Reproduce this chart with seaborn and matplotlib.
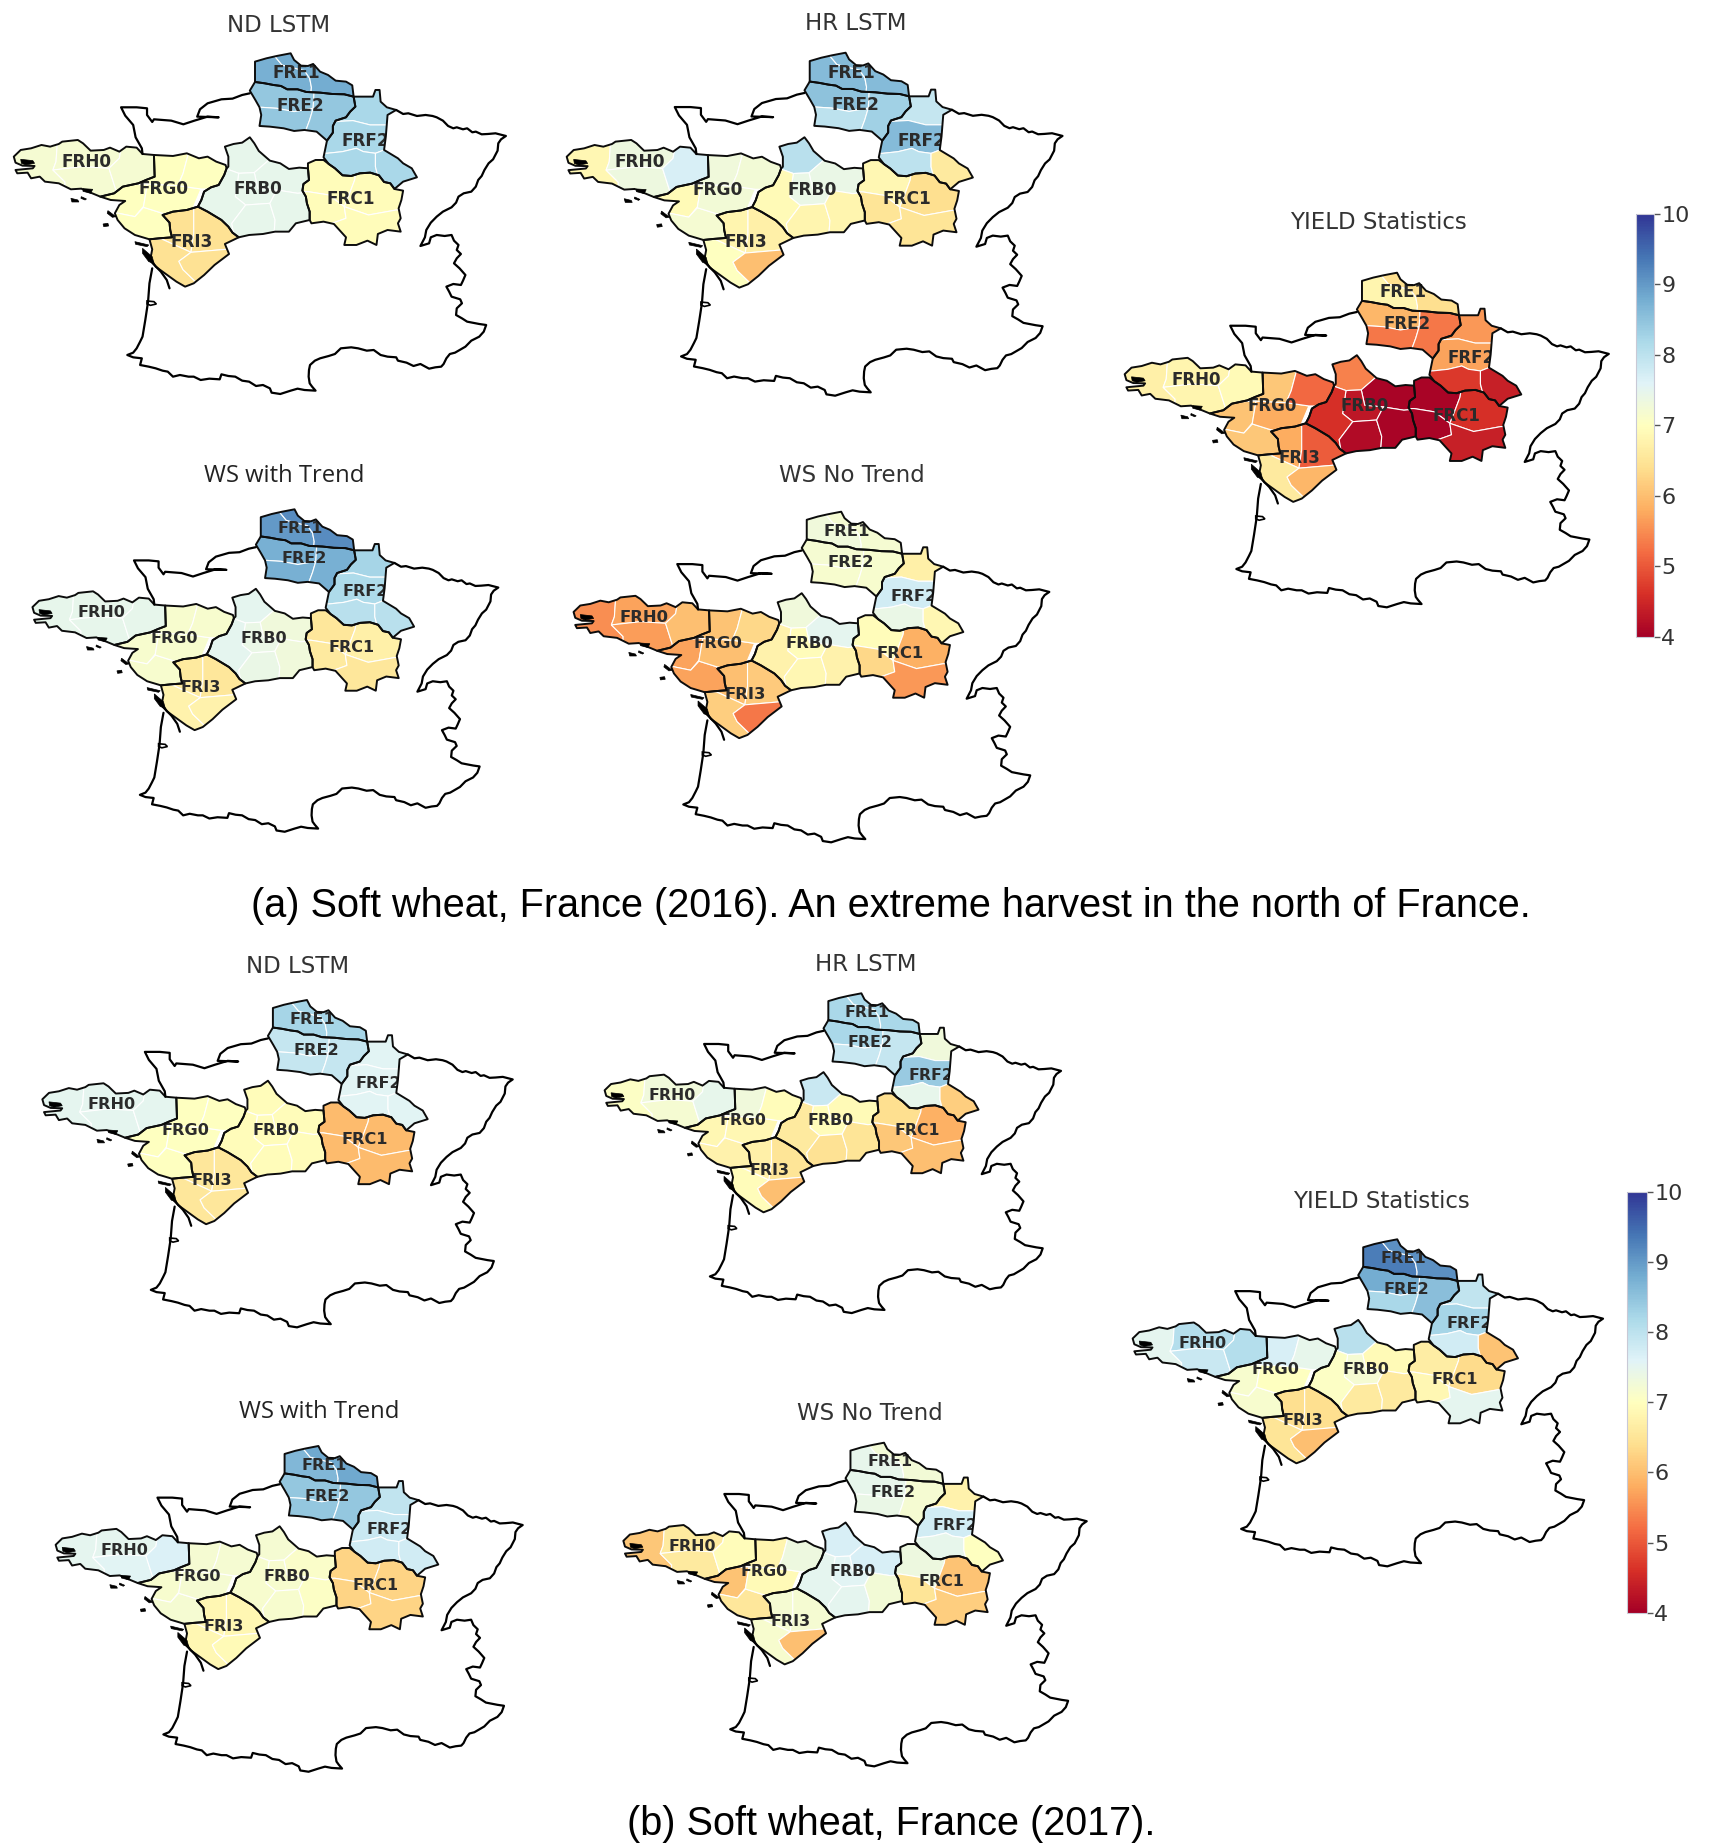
import matplotlib
matplotlib.use("Agg")
import matplotlib.pyplot as plt
from matplotlib.patches import Polygon
from matplotlib.cm import ScalarMappable
from matplotlib.colors import Normalize
import seaborn as sns

# ---------- yields per department (t/ha) ----------
departments = ["Pas-de-Calais", "Nord", "Somme", "Oise", "Aisne", "Ardennes", "Marne", "Aube", "Haute-Marne",
               "Finistere", "Cotes-d'Armor", "Morbihan", "Ille-et-Vilaine",
               "Loire-Atlantique", "Vendee", "Maine-et-Loire", "Mayenne", "Sarthe",
               "Eure-et-Loir", "Loiret", "Loir-et-Cher", "Indre-et-Loire", "Indre", "Cher",
               "Yonne", "Cote-d'Or", "Nievre", "Saone-et-Loire",
               "Deux-Sevres", "Vienne", "Charente-Maritime", "Charente"]

nd_2016 = [8.75, 8.8, 8.45, 8.45, 8.45, 8.2, 8.2, 8.2, 8.2, 7.2, 7.2, 7.2, 7.2, 7.0, 7.0, 7.0, 7.0, 7.0,
           7.45, 7.45, 7.45, 7.45, 7.45, 7.45, 6.95, 6.95, 6.95, 6.95, 6.45, 6.45, 6.45, 6.45]
hr_2016 = [8.6, 8.6, 8.5, 8.0, 8.3, 7.9, 8.6, 8.0, 6.6, 6.85, 7.35, 7.35, 7.7, 6.9, 7.2, 7.25, 7.3, 7.25,
           8.05, 7.4, 7.4, 6.9, 6.8, 6.8, 6.85, 6.4, 6.5, 6.5, 6.8, 6.7, 7.0, 6.0]
wst_2016 = [9.0, 9.15, 8.75, 8.75, 8.75, 8.25, 8.15, 8.05, 8.05, 7.45, 7.45, 7.45, 7.45, 7.15, 7.15, 7.15, 7.15, 7.15,
            7.5, 7.3, 7.4, 7.5, 7.4, 7.3, 6.55, 6.7, 6.6, 6.55, 6.6, 6.55, 6.75, 6.75]
wsn_2016 = [7.3, 7.2, 7.2, 7.15, 7.15, 6.7, 7.75, 7.4, 6.85, 5.5, 5.7, 5.65, 6.0, 5.7, 5.7, 6.0, 6.05, 6.3,
            7.3, 7.5, 6.95, 6.75, 6.85, 6.75, 6.95, 5.85, 6.3, 5.6, 6.0, 6.15, 6.2, 5.3]
stats_2016 = [6.8, 6.4, 5.9, 5.3, 5.3, 5.6, 5.7, 4.7, 4.4, 6.7, 6.8, 6.8, 6.9, 6.05, 6.1, 5.8, 6.1, 5.15,
              5.4, 4.05, 4.3, 4.6, 4.15, 4.05, 4.05, 4.6, 4.05, 4.4, 5.8, 5.05, 6.6, 5.9]
nd_2017 = [8.25, 8.25, 7.9, 7.9, 7.9, 7.55, 7.55, 7.55, 7.55, 7.5, 7.5, 7.5, 7.5, 7.0, 7.0, 7.0, 7.0, 7.0,
           6.95, 6.95, 6.95, 6.95, 6.95, 6.95, 5.95, 5.95, 5.95, 5.95, 6.55, 6.55, 6.55, 6.55]
hr_2017 = [8.2, 8.2, 8.2, 7.85, 7.9, 7.3, 8.4, 7.45, 6.2, 7.05, 7.3, 7.2, 7.45, 6.85, 6.75, 6.85, 7.3, 6.95,
           7.85, 6.9, 6.95, 6.6, 6.45, 6.5, 6.4, 5.85, 6.1, 6.0, 6.7, 6.5, 6.95, 6.0]
wst_2017 = [8.65, 8.85, 8.45, 8.45, 8.45, 7.95, 7.85, 7.75, 7.75, 7.5, 7.5, 7.55, 7.65, 7.15, 7.2, 7.2, 7.2, 7.2,
            7.2, 7.1, 7.15, 7.15, 7.15, 7.05, 6.25, 6.25, 6.25, 6.25, 6.85, 6.85, 6.85, 6.9]
wsn_2017 = [7.45, 7.25, 7.45, 7.4, 7.2, 6.75, 7.75, 7.45, 7.0, 6.1, 6.6, 6.6, 6.95, 6.05, 6.55, 6.9, 6.8, 7.35,
            7.7, 7.7, 7.55, 7.5, 7.5, 7.25, 7.35, 6.05, 6.5, 6.2, 7.2, 7.2, 7.15, 6.0]
stats_2017 = [9.3, 9.1, 8.8, 8.2, 8.55, 7.95, 8.25, 7.75, 6.05, 7.5, 8.1, 7.85, 8.1, 7.15, 7.15, 7.0, 7.7, 7.45,
              8.05, 6.9, 7.2, 7.05, 6.6, 6.6, 6.65, 6.35, 6.85, 7.5, 6.4, 6.4, 6.5, 6.0]

panel_titles = ["ND LSTM", "HR LSTM", "WS with Trend", "WS No Trend", "YIELD Statistics"]
captions = ["(a) Soft wheat, France (2016). An extreme harvest in the north of France.",
            "(b) Soft wheat, France (2017)."]
colorbar_ticks = [4, 5, 6, 7, 8, 9, 10]

# ---------- map geometry (map units, y down) ----------
arc_e1e2 = [(737, 246), (765, 250), (790, 255), (812, 258), (830, 268), (860, 268), (885, 276), (925, 278), (960, 282), (995, 283), (1022, 290)]
arc_e2f2 = [(1022, 290), (1027, 320), (1012, 335), (1000, 352), (970, 362), (962, 378), (962, 398), (945, 422)]
arc_f2c1 = [(950, 492), (968, 505), (990, 526), (1015, 528), (1040, 520), (1070, 518), (1095, 526), (1110, 546), (1128, 550), (1140, 567)]
arc_bc = [(890, 505), (893, 540), (877, 552), (874, 572), (884, 590), (887, 610), (895, 635), (895, 660)]
arc_bg = [(655, 505), (648, 525), (632, 555), (610, 562), (590, 575), (582, 600), (572, 620)]
arc_bi = [(572, 620), (600, 635), (640, 660), (660, 680), (672, 698), (690, 712)]
arc_gi = [(572, 620), (540, 630), (500, 635), (470, 645), (490, 668), (492, 690), (497, 712), (460, 715), (432, 718)]
arc_hg = [(445, 465), (447, 530), (422, 540), (400, 550), (355, 560), (330, 580), (290, 590)]

region_outlines = {
    "FRE1": [(737, 185), (770, 175), (800, 168), (840, 160), (850, 180), (870, 197), (890, 198), (905, 192), (925, 215), (948, 225), (970, 242), (1000, 245), (1018, 256), (1022, 290)] + arc_e1e2[::-1],
    "FRE2": [(722, 272)] + arc_e1e2 + arc_e2f2[1:] + [(915, 395), (880, 390), (850, 393), (820, 385), (780, 380), (750, 378), (755, 345), (750, 322), (738, 300)],
    "FRF2": arc_e2f2 + [(935, 472)] + arc_f2c1 + [(1165, 545), (1205, 532), (1190, 505), (1165, 490), (1150, 475), (1110, 450), (1115, 410), (1120, 345), (1145, 330), (1118, 322), (1100, 305), (1097, 270), (1085, 270), (1078, 290), (1050, 290)],
    "FRH0": [(40, 470), (60, 450), (90, 445), (120, 435), (145, 440), (170, 432), (180, 425), (225, 420), (240, 430), (262, 452), (300, 450), (318, 443), (345, 455), (365, 440), (395, 443), (412, 462)] + arc_hg + [(262, 578), (235, 566), (205, 568), (170, 550), (130, 545), (115, 530), (90, 535), (80, 518), (50, 520), (45, 510), (95, 505), (100, 498), (65, 497), (45, 488)],
    "FRG0": arc_hg[::-1] + [(500, 468), (540, 460), (575, 475), (600, 470), (625, 485), (652, 495)] + arc_bg + arc_gi[1:] + [(390, 705), (360, 685), (340, 660), (332, 640), (345, 615), (362, 603), (320, 600)],
    "FRB0": [(650, 440), (675, 432), (700, 428), (722, 412), (735, 430), (748, 453), (780, 482), (810, 490), (835, 507), (865, 503)] + arc_bc + [(875, 665), (855, 670), (835, 695), (795, 695), (760, 702), (720, 705), (690, 712)] + arc_bi[::-1] + arc_bg[::-1] + [(660, 500), (660, 470)],
    "FRC1": [(890, 490), (912, 480), (935, 480)] + arc_f2c1 + [(1165, 572), (1160, 600), (1152, 625), (1158, 655), (1150, 670), (1158, 695), (1120, 690), (1092, 702), (1088, 735), (1062, 722), (1030, 735), (995, 735), (1000, 712), (965, 672), (935, 665), (900, 670), (895, 660), (895, 635), (887, 610), (884, 590), (874, 572), (877, 552), (893, 540), (890, 505)],
    "FRI3": arc_gi + [(440, 748), (435, 775), (450, 800), (490, 830), (510, 845), (535, 860), (560, 850), (590, 825), (620, 795), (662, 762), (650, 732)] + arc_bi[::-1],
}

region_departments = {
    "FRE1": [[(700, 120), (795, 120), (795, 170), (815, 195), (880, 212), (895, 235), (900, 262), (897, 300), (700, 300)],
             [(795, 120), (1060, 120), (1060, 300), (897, 300), (900, 262), (895, 235), (880, 212), (815, 195), (795, 170)]],
    "FRE2": [[(700, 230), (910, 230), (905, 325), (850, 335), (800, 325), (755, 322), (700, 322)],
             [(700, 322), (755, 322), (800, 325), (850, 335), (905, 325), (895, 360), (885, 388), (885, 440), (700, 440)],
             [(910, 230), (1060, 230), (1060, 440), (885, 440), (885, 388), (895, 360), (905, 325)]],
    "FRF2": [[(920, 260), (1160, 260), (1160, 375), (1070, 375), (1020, 362), (965, 365), (920, 365)],
             [(920, 365), (965, 365), (1020, 362), (1070, 375), (1160, 375), (1160, 440), (1110, 450), (1085, 460), (1050, 455), (1030, 445), (990, 455), (945, 460), (920, 460)],
             [(920, 460), (945, 460), (990, 455), (1030, 445), (1050, 455), (1085, 460), (1085, 500), (1095, 540), (920, 540)],
             [(1085, 460), (1110, 450), (1160, 440), (1220, 450), (1220, 580), (1095, 580), (1095, 540), (1085, 500)]],
    "FRH0": [[(20, 410), (167, 410), (162, 485), (153, 510), (188, 546), (188, 600), (20, 600)],
             [(167, 410), (355, 410), (350, 445), (345, 475), (315, 505), (240, 500), (153, 510), (162, 485)],
             [(153, 510), (240, 500), (315, 505), (335, 570), (335, 600), (188, 600), (188, 546)],
             [(355, 410), (460, 410), (460, 560), (335, 600), (335, 570), (315, 505), (345, 475), (350, 445)]],
    "FRG0": [[(270, 560), (426, 552), (415, 619), (390, 650), (338, 639), (270, 639)],
             [(270, 639), (338, 639), (390, 650), (415, 622), (467, 639), (510, 700), (510, 740), (270, 740)],
             [(426, 552), (514, 557), (581, 567), (560, 619), (560, 660), (467, 639), (415, 622), (415, 619)],
             [(426, 552), (400, 440), (545, 440), (545, 459), (529, 521), (514, 557)],
             [(545, 440), (680, 440), (680, 567), (581, 567), (514, 557), (529, 521), (545, 459)]],
    "FRB0": [[(630, 400), (780, 400), (775, 482), (735, 518), (690, 520), (650, 505), (630, 500)],
             [(775, 482), (790, 470), (910, 470), (910, 575), (860, 580), (800, 570), (745, 565), (735, 518)],
             [(690, 520), (735, 518), (745, 565), (800, 570), (780, 610), (710, 615), (680, 590)],
             [(550, 640), (560, 560), (650, 505), (690, 520), (680, 590), (710, 615), (670, 670), (680, 730), (650, 700)],
             [(710, 615), (780, 610), (795, 660), (790, 730), (680, 730), (670, 670)],
             [(780, 610), (800, 570), (860, 580), (910, 575), (910, 730), (790, 730), (795, 660)]],
    "FRC1": [[(870, 470), (1035, 470), (1025, 540), (1005, 595), (995, 620), (950, 585), (890, 575), (860, 575)],
             [(1035, 470), (1180, 510), (1180, 630), (1145, 630), (1065, 645), (995, 620), (1005, 595), (1025, 540)],
             [(860, 575), (890, 575), (950, 585), (995, 620), (1000, 655), (960, 670), (960, 700), (860, 700)],
             [(960, 670), (1000, 655), (995, 620), (1065, 645), (1145, 630), (1180, 630), (1180, 750), (960, 750)]],
    "FRI3": [[(460, 620), (560, 620), (560, 700), (552, 757), (467, 717), (460, 717)],
             [(560, 620), (700, 620), (700, 745), (653, 748), (552, 757), (560, 700)],
             [(420, 717), (467, 717), (552, 757), (517, 784), (529, 809), (565, 845), (540, 870), (420, 870)],
             [(552, 757), (653, 748), (700, 745), (700, 870), (540, 870), (565, 845), (529, 809), (517, 784)]],
}

region_label_points = {"FRE1": (857, 220), "FRE2": (868, 317), "FRF2": (1057, 422), "FRH0": (250, 487),
                       "FRG0": (472, 568), "FRB0": (745, 568), "FRC1": (1015, 597), "FRI3": (553, 725)}

channel_coast = [(722, 280), (700, 285), (672, 296), (640, 298), (600, 310), (578, 328), (570, 350), (632, 352), (600, 350), (562, 362), (530, 373), (495, 362), (445, 358), (440, 366), (425, 345), (425, 325), (395, 322), (350, 322), (362, 347), (385, 375), (392, 412), (410, 445), (412, 462)]
rest_of_border = [(1145, 330), (1165, 342), (1180, 340), (1205, 348), (1230, 345), (1250, 348), (1262, 352), (1280, 362), (1295, 378), (1310, 385), (1320, 382), (1338, 388), (1350, 385), (1365, 397), (1375, 395), (1392, 403), (1410, 402), (1432, 400), (1462, 408), (1448, 418), (1440, 430), (1438, 452), (1425, 478), (1412, 490), (1400, 510), (1392, 528), (1382, 540), (1375, 560), (1362, 575), (1340, 580), (1325, 590), (1318, 608), (1305, 622), (1280, 635), (1262, 650), (1245, 668), (1232, 690), (1228, 712), (1215, 738), (1240, 730), (1245, 712), (1262, 705), (1285, 708), (1305, 705), (1312, 722), (1325, 735), (1320, 750), (1332, 762), (1320, 775), (1312, 790), (1328, 805), (1345, 825), (1338, 842), (1332, 855), (1310, 852), (1290, 860), (1298, 875), (1305, 890), (1330, 898), (1335, 910), (1320, 925), (1318, 945), (1335, 955), (1350, 965), (1385, 972), (1405, 975), (1398, 995), (1385, 1010), (1362, 1022), (1345, 1040), (1315, 1058), (1300, 1062), (1290, 1075), (1282, 1092), (1275, 1100), (1258, 1102), (1240, 1106), (1215, 1092), (1195, 1098), (1175, 1088), (1150, 1082), (1145, 1072), (1120, 1070), (1100, 1065), (1080, 1050), (1060, 1052), (1035, 1045), (1015, 1042), (985, 1045), (968, 1062), (950, 1068), (925, 1075), (910, 1082), (896, 1095), (893, 1110), (892, 1130), (895, 1150), (902, 1160), (912, 1172), (880, 1170), (860, 1166), (840, 1172), (810, 1182), (785, 1178), (780, 1165), (760, 1155), (740, 1158), (720, 1145), (700, 1142), (680, 1130), (660, 1128), (640, 1123), (635, 1138), (605, 1136), (580, 1140), (560, 1130), (545, 1130), (520, 1125), (500, 1130), (485, 1115), (470, 1112), (450, 1105), (430, 1100), (405, 1095), (410, 1075), (385, 1072), (368, 1065), (385, 1058), (395, 1045), (405, 1025), (412, 1010), (420, 960), (428, 905), (432, 850), (440, 805)]
gironde = [(437, 785), (465, 815), (482, 840), (490, 865)]
islands = [[(60, 478), (95, 482), (100, 490), (75, 495), (62, 490)], [(205, 595), (225, 600), (228, 606), (208, 606)],
           [(235, 590), (250, 597), (246, 600), (234, 595)], [(312, 632), (335, 650), (325, 652), (310, 640)],
           [(298, 672), (312, 670), (314, 678), (300, 680)], [(390, 725), (430, 735), (425, 740), (392, 733)],
           [(412, 745), (440, 770), (445, 790), (430, 785), (412, 760)], [(240, 566), (268, 568), (262, 580), (240, 574)]]
arcachon = [(425, 903), (445, 905), (452, 912), (435, 916), (425, 912)]
lorraine_mask = [(1145, 330), (1120, 345), (1115, 410), (1110, 450), (1150, 475), (1190, 505), (1300, 505), (1300, 345)]

# ---------- layout in figure pixels: left, right, top, bottom of the map, title centre ----------
FIG_W, FIG_H = 1725, 1843
panels = [
    (nd_2016, 0, (13.1, 505.9, 53.3, 395.0), (278.5, 26)),
    (hr_2016, 1, (566.0, 1062.5, 52.7, 396.7), (855.5, 24)),
    (wst_2016, 2, (31.8, 498.3, 509.3, 832.7), (284.5, 476)),
    (wsn_2016, 3, (572.9, 1049.3, 511.7, 843.3), (852, 476)),
    (stats_2016, 4, (1124.0, 1608.8, 272.7, 608.3), (1378, 222.5)),
    (nd_2017, 0, (41.7, 512.7, 1000.0, 1328.3), (298, 966)),
    (hr_2017, 1, (604.0, 1061.0, 993.3, 1314.0), (866, 964)),
    (wst_2017, 2, (55.0, 522.7, 1446.0, 1772.7), (319, 1412.5)),
    (wsn_2017, 3, (622.7, 1086.7, 1442.7, 1767.3), (870, 1414)),
    (stats_2017, 4, (1132.0, 1603.0, 1239.3, 1567.3), (1381, 1201)),
]
colorbar_boxes = [(1635.5, 1653.5, 214.0, 636.7), (1627.0, 1646.5, 1191.7, 1612.7)]
caption_spots = [(891, 906), (891, 1824)]

sns.set_theme(style="white")
cmap = sns.color_palette("RdYlBu", as_cmap=True)
norm = Normalize(vmin=4, vmax=10)
fig = plt.figure(figsize=(FIG_W / 100, FIG_H / 100), dpi=100, facecolor="white")


def px_axes(left, right, top, bottom):
    return fig.add_axes([left / FIG_W, 1 - bottom / FIG_H, (right - left) / FIG_W, (bottom - top) / FIG_H])


def draw_map(ax, values, width_px):
    ax.set_xlim(38, 1462)
    ax.set_ylim(1185, 160)
    ax.axis("off")
    scale = width_px / 493
    remaining = iter(values)
    for region, outline in region_outlines.items():
        clip = Polygon(outline, closed=True, facecolor="none", edgecolor="none", zorder=1)
        ax.add_patch(clip)
        for shape in region_departments[region]:
            dept = Polygon(shape, closed=True, facecolor=cmap(norm(next(remaining))),
                           edgecolor="white", linewidth=0.8, zorder=2)
            ax.add_patch(dept)
            dept.set_clip_path(clip)
        x, y = region_label_points[region]
        ax.text(x, y, region, ha="center", va="center", fontsize=12.2 * scale, fontweight="bold",
                family="DejaVu Sans", color="#2b2b2b", zorder=3, clip_on=False)
    ax.add_patch(Polygon(lorraine_mask, closed=True, facecolor="white", edgecolor="none", zorder=4))
    for outline in region_outlines.values():
        ax.add_patch(Polygon(outline, closed=True, facecolor="none", edgecolor="#0c0c0c",
                             linewidth=1.4, joinstyle="round", zorder=5, clip_on=False))
    for line in (channel_coast, rest_of_border, gironde):
        ax.plot(*zip(*line), color="black", lw=1.6, solid_joinstyle="round", zorder=5, clip_on=False)
    for isle in islands:
        ax.add_patch(Polygon(isle, closed=True, facecolor="black", edgecolor="black", lw=0.5, zorder=5))
    ax.add_patch(Polygon(arcachon, closed=True, facecolor="none", edgecolor="black", lw=1.2, zorder=5))


for values, title_idx, (l, r, t, b), (tx, ty) in panels:
    ax = px_axes(l, r, t, b)
    draw_map(ax, values, r - l)
    is_ws_trend = title_idx == 2
    fig.text(tx / FIG_W, 1 - ty / FIG_H, panel_titles[title_idx], ha="center", va="center",
             fontsize=17.1 if is_ws_trend else 16.5, color="#222222" if is_ws_trend else "#333333",
             family="Open Sans" if is_ws_trend else "DejaVu Sans")

for (l, r, t, b) in colorbar_boxes:
    cax = px_axes(l, r, t, b)
    cb = fig.colorbar(ScalarMappable(norm=norm, cmap=cmap), cax=cax, ticks=colorbar_ticks)
    cb.ax.tick_params(labelsize=16, length=4, width=1, color="#555555", labelcolor="#333333", pad=1.5, right=True)
    cb.outline.set_edgecolor("#c9c9d6")
    cb.outline.set_linewidth(0.8)

for text, (cx, cy) in zip(captions, caption_spots):
    fig.text(cx / FIG_W, 1 - cy / FIG_H, text, ha="center", va="center", fontsize=28.55,
             family="Liberation Sans", color="black")

fig.savefig("out.png", dpi=100)
